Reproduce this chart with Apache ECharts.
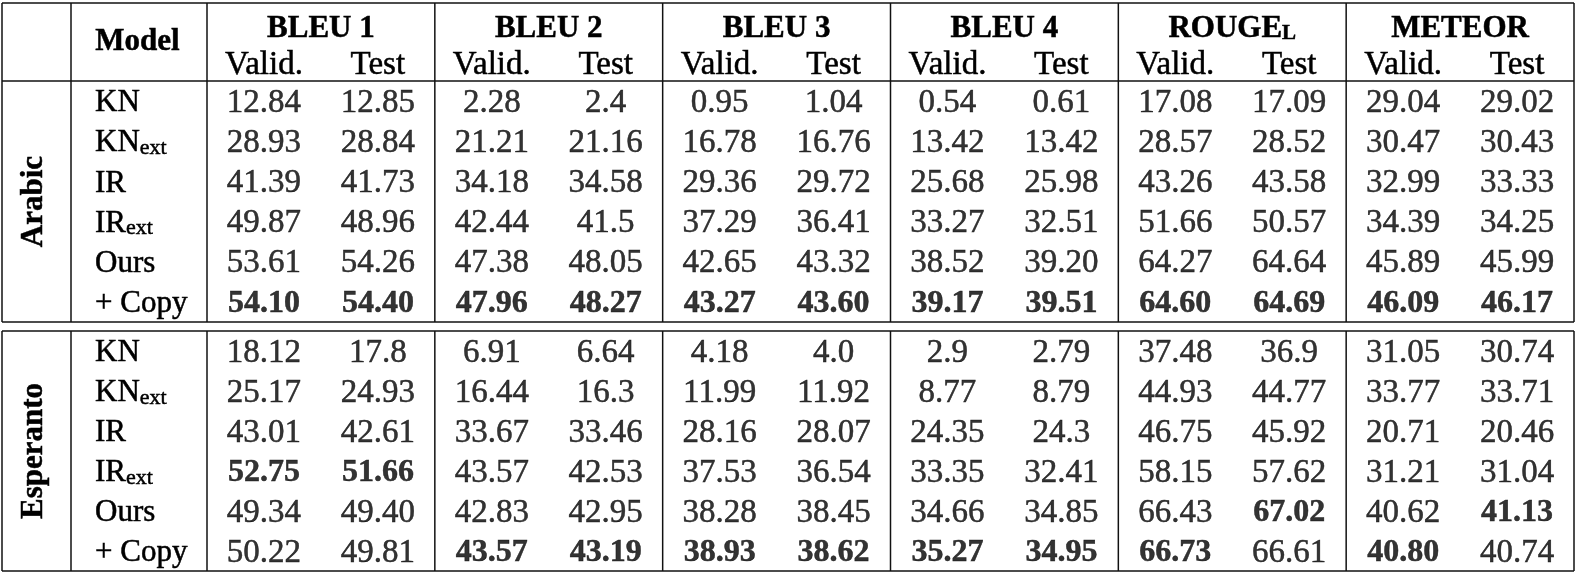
<!DOCTYPE html>
<html>
<head>
<meta charset="utf-8">
<script src="https://cdn.jsdelivr.net/npm/echarts@6/dist/echarts.min.js"></script>
<style>
html,body{margin:0;padding:0;background:#fff;}
#chart{width:1579px;height:576px;}
</style>
</head>
<body>
<div id="chart"></div>
<script>
// ---- data ----
const metrics = ['BLEU 1', 'BLEU 2', 'BLEU 3', 'BLEU 4', 'ROUGE_L', 'METEOR'];
const splits = ['Valid.', 'Test'];
const models = ['KN', 'KN_ext', 'IR', 'IR_ext', 'Ours', '+ Copy'];
const groups = ['Arabic', 'Esperanto'];

const arabicScores = [
  ['12.84','12.85','2.28','2.4','0.95','1.04','0.54','0.61','17.08','17.09','29.04','29.02'],
  ['28.93','28.84','21.21','21.16','16.78','16.76','13.42','13.42','28.57','28.52','30.47','30.43'],
  ['41.39','41.73','34.18','34.58','29.36','29.72','25.68','25.98','43.26','43.58','32.99','33.33'],
  ['49.87','48.96','42.44','41.5','37.29','36.41','33.27','32.51','51.66','50.57','34.39','34.25'],
  ['53.61','54.26','47.38','48.05','42.65','43.32','38.52','39.20','64.27','64.64','45.89','45.99'],
  ['54.10','54.40','47.96','48.27','43.27','43.60','39.17','39.51','64.60','64.69','46.09','46.17']
];
const esperantoScores = [
  ['18.12','17.8','6.91','6.64','4.18','4.0','2.9','2.79','37.48','36.9','31.05','30.74'],
  ['25.17','24.93','16.44','16.3','11.99','11.92','8.77','8.79','44.93','44.77','33.77','33.71'],
  ['43.01','42.61','33.67','33.46','28.16','28.07','24.35','24.3','46.75','45.92','20.71','20.46'],
  ['52.75','51.66','43.57','42.53','37.53','36.54','33.35','32.41','58.15','57.62','31.21','31.04'],
  ['49.34','49.40','42.83','42.95','38.28','38.45','34.66','34.85','66.43','67.02','40.62','41.13'],
  ['50.22','49.81','43.57','43.19','38.93','38.62','35.27','34.95','66.73','66.61','40.80','40.74']
];
// column indices printed in bold, per model row
const arabicBold = [[], [], [], [], [], [0,1,2,3,4,5,6,7,8,9,10,11]];
const esperantoBold = [[], [], [], [0,1], [9,11], [2,3,4,5,6,7,8,10]];

// ---- layout ----
const FONT = '"Liberation Serif", "Times New Roman", serif';
const INK = '#000';
const STROKE = { textBorderColor: '#000', textBorderWidth: 0.5 };
const X_LEFT = 2, X_GROUP = 71, X_MODEL = 207, X_RIGHT = 1574;
const Y_TOP = 3, Y_HEAD = 81, Y_A_END = 322, Y_E_START = 331, Y_BOTTOM = 571;
const MODEL_TEXT_X = 95;

const columns = [];
metrics.forEach(m => splits.forEach(s => columns.push(m + '|' + s)));

function sub(s) {
  const i = s.indexOf('_');
  return i < 0 ? s : s.slice(0, i) + '{sub|' + s.slice(i + 1) + '}';
}

function cellData(scores, bold) {
  const out = [];
  scores.forEach((row, r) => row.forEach((txt, c) => {
    const isBold = bold[r].indexOf(c) >= 0;
    out.push({
      value: [c, r],
      text: txt,
      label: isBold ? { fontWeight: 'bold', fontSize: 32 } : undefined
    });
  }));
  return out;
}

const pairW = (X_RIGHT - X_MODEL) / metrics.length;
const graphics = [];
function hline(y) {
  graphics.push({ type: 'line', shape: { x1: X_LEFT, y1: y, x2: X_RIGHT, y2: y },
    style: { stroke: '#111', lineWidth: 1.5 }, silent: true });
}
function vline(x, y1, y2) {
  graphics.push({ type: 'line', shape: { x1: x, y1: y1, x2: x, y2: y2 },
    style: { stroke: '#111', lineWidth: 1.5 }, silent: true });
}
[Y_TOP, Y_HEAD, Y_A_END, Y_E_START, Y_BOTTOM].forEach(hline);
const vx = [X_LEFT, X_GROUP, X_MODEL];
for (let i = 1; i <= metrics.length; i++) vx.push(X_MODEL + pairW * i);
vx.forEach(x => { vline(x, Y_TOP, Y_A_END); vline(x, Y_E_START, Y_BOTTOM); });
graphics.push({ type: 'text', left: MODEL_TEXT_X, top: 26, silent: true,
  style: Object.assign({ text: 'Model', font: 'bold 31px ' + FONT, fill: INK }, { stroke: '#000', lineWidth: 0.5 }) });

const subRich = { sub: Object.assign({ fontSize: 22, fontFamily: FONT, color: INK, padding: [10, 0, 0, 0] }, STROKE) };
const subRichBold = { sub: Object.assign({ fontSize: 21, fontWeight: 'bold', fontFamily: FONT, color: INK, padding: [10, 0, 0, 0] }, STROKE) };

function yAxisFor(gi, name) {
  return {
    type: 'category', gridIndex: gi, data: models, inverse: true,
    axisLine: { show: false }, axisTick: { show: false }, splitLine: { show: false },
    axisLabel: Object.assign({ interval: 0, align: 'left', margin: X_MODEL - MODEL_TEXT_X, fontSize: 31, fontFamily: FONT,
      color: INK, formatter: sub, rich: subRich, padding: [4, 0, 0, 0] }, STROKE),
    name: name, nameLocation: 'middle', nameRotate: 90, nameGap: 158,
    nameTextStyle: Object.assign({ fontSize: 31, fontWeight: 'bold', fontFamily: FONT, color: INK }, STROKE)
  };
}

const cellLabel = Object.assign({ show: true, position: 'inside', fontSize: 33, fontFamily: FONT, color: INK,
  offset: [0, 2], formatter: p => p.data.text }, STROKE);

const option = {
  backgroundColor: '#fff',
  animation: false,
  grid: [
    { left: X_MODEL, top: Y_HEAD, width: X_RIGHT - X_MODEL, height: Y_A_END - Y_HEAD },
    { left: X_MODEL, top: Y_E_START, width: X_RIGHT - X_MODEL, height: Y_BOTTOM - Y_E_START }
  ],
  xAxis: [
    { type: 'category', gridIndex: 0, data: columns, position: 'top',
      axisLine: { show: false }, axisTick: { show: false }, splitLine: { show: false },
      axisLabel: Object.assign({ interval: 0, fontSize: 33, fontFamily: FONT, color: INK, margin: 16,
        verticalAlign: 'middle', formatter: v => v.split('|')[1] }, STROKE) },
    { type: 'category', gridIndex: 0, data: metrics, position: 'top',
      axisLine: { show: false }, axisTick: { show: false }, splitLine: { show: false },
      axisLabel: Object.assign({ interval: 0, fontSize: 31, fontWeight: 'bold', fontFamily: FONT, color: INK,
        margin: 52, verticalAlign: 'middle', formatter: sub, rich: subRichBold }, STROKE) },
    { type: 'category', gridIndex: 1, data: columns, show: false }
  ],
  yAxis: [yAxisFor(0, groups[0]), yAxisFor(1, groups[1])],
  series: [
    { type: 'scatter', xAxisIndex: 0, yAxisIndex: 0, symbolSize: 1,
      itemStyle: { color: 'rgba(0,0,0,0)' }, silent: true,
      label: cellLabel, data: cellData(arabicScores, arabicBold) },
    { type: 'scatter', xAxisIndex: 2, yAxisIndex: 1, symbolSize: 1,
      itemStyle: { color: 'rgba(0,0,0,0)' }, silent: true,
      label: cellLabel, data: cellData(esperantoScores, esperantoBold) }
  ],
  graphic: graphics
};

const chart = echarts.init(document.getElementById('chart'), null, { renderer: 'canvas' });
chart.setOption(option);
</script>
</body>
</html>
